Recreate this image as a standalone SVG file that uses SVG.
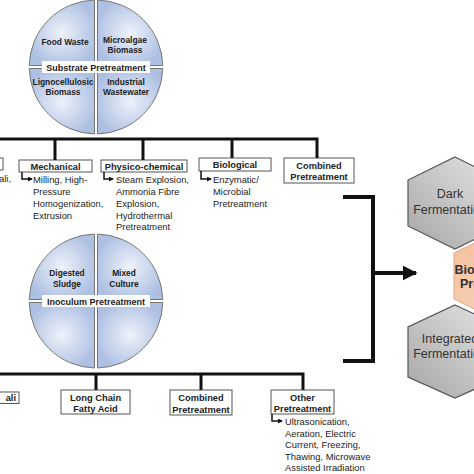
<svg xmlns="http://www.w3.org/2000/svg" width="474" height="474" viewBox="0 0 474 474">
<defs>
<radialGradient id="blue" cx="0.5" cy="0.5" r="0.55">
<stop offset="0" stop-color="#eef2fa"/>
<stop offset="1" stop-color="#adc0e2"/>
</radialGradient>
<linearGradient id="gray" x1="1" y1="0" x2="0" y2="1">
<stop offset="0" stop-color="#e6e6e6"/>
<stop offset="1" stop-color="#a6a6a6"/>
</linearGradient>
<linearGradient id="orange" x1="0" y1="0" x2="1" y2="1">
<stop offset="0" stop-color="#f3bf9b"/>
<stop offset="1" stop-color="#fbdcc6"/>
</linearGradient>
<marker id="ah" viewBox="0 0 6 6" refX="5" refY="3" markerWidth="5" markerHeight="5" markerUnits="userSpaceOnUse" orient="auto">
<path d="M0,0 L6,3 L0,6 z" fill="#111"/>
</marker>
<marker id="big" viewBox="0 0 10 10" refX="9" refY="5" markerWidth="15" markerHeight="15" markerUnits="userSpaceOnUse" orient="auto">
<path d="M0,0 L10,5 L0,10 z" fill="#111"/>
</marker>
</defs>
<style>
text{font-family:"Liberation Sans",Arial,sans-serif;fill:#222}
.q{font-size:8.4px;font-weight:bold;text-anchor:middle}
.band{font-size:9px;font-weight:bold;text-anchor:middle}
.bl{font-size:9.3px;font-weight:bold;text-anchor:middle}
.it{font-size:9.4px}
.hx{font-size:12.5px;text-anchor:middle;fill:#333}
.hxb{font-size:12.5px;font-weight:bold;text-anchor:middle;fill:#333}
.quad{fill:url(#blue);stroke:#777;stroke-width:1}
.box{fill:#fff;stroke:#555;stroke-width:1}
.hex{fill:url(#gray);stroke:#555;stroke-width:1.2}
.main{fill:none;stroke:#111;stroke-width:3}
.thick{fill:none;stroke:#111;stroke-width:4}
.sub{fill:none;stroke:#111;stroke-width:1.5}
</style>

<g id="substrate-circle">
<path class="quad" d="M94.5,65.5 V0 A67,67 0 0 0 29.2,65.5 Z"/>
<path class="quad" d="M97.5,65.5 V0 A67,67 0 0 1 162.8,65.5 Z"/>
<path class="quad" d="M94.5,68.5 V134 A67,67 0 0 1 29.2,68.5 Z"/>
<path class="quad" d="M97.5,68.5 V134 A67,67 0 0 0 162.8,68.5 Z"/>
<rect x="42" y="61" width="108" height="12" fill="#fff"/>
<text class="band" x="96" y="70.5">Substrate Pretreatment</text>
<text class="q" x="65" y="45">Food Waste</text>
<text class="q" x="125" y="43">Microalgae</text>
<text class="q" x="125" y="53">Biomass</text>
<text class="q" x="63" y="85">Lignocellulosic</text>
<text class="q" x="63" y="95">Biomass</text>
<text class="q" x="126" y="85">Industrial</text>
<text class="q" x="126" y="95">Wastewater</text>
</g>

<g id="inoculum-circle">
<path class="quad" d="M94.5,299.5 V234 A67,67 0 0 0 29.2,299.5 Z"/>
<path class="quad" d="M97.5,299.5 V234 A67,67 0 0 1 162.8,299.5 Z"/>
<path class="quad" d="M94.5,302.5 V368 A67,67 0 0 1 29.2,302.5 Z"/>
<path class="quad" d="M97.5,302.5 V368 A67,67 0 0 0 162.8,302.5 Z"/>
<rect x="42" y="295" width="108" height="12" fill="#fff"/>
<text class="band" x="96" y="304.5">Inoculum Pretreatment</text>
<text class="q" x="67" y="276">Digested</text>
<text class="q" x="67" y="287">Sludge</text>
<text class="q" x="124" y="276">Mixed</text>
<text class="q" x="124" y="287">Culture</text>
</g>

<g id="chemical-top">
<rect class="box" x="-20" y="158" width="23" height="12"/>
<text class="it" x="-1" y="182">ali,</text>
</g>

<g id="mechanical">
<rect class="box" x="19" y="160" width="73" height="12"/>
<text class="bl" x="55.5" y="169.5">Mechanical</text>
<text class="it" x="33" y="183">Milling, High-</text>
<text class="it" x="33" y="195">Pressure</text>
<text class="it" x="33" y="207">Homogenization,</text>
<text class="it" x="33" y="218.5">Extrusion</text>
</g>

<g id="physico-chemical">
<rect class="box" x="101" y="160" width="86" height="12"/>
<text class="bl" x="144" y="169.5">Physico-chemical</text>
<text class="it" x="116" y="183">Steam Explosion,</text>
<text class="it" x="116" y="195">Ammonia Fibre</text>
<text class="it" x="116" y="207">Explosion,</text>
<text class="it" x="116" y="218.5">Hydrothermal</text>
<text class="it" x="116" y="230">Pretreatment</text>
</g>

<g id="biological">
<rect class="box" x="199" y="158" width="72" height="13"/>
<text class="bl" x="235" y="168">Biological</text>
<text class="it" x="213" y="183">Enzymatic/</text>
<text class="it" x="213" y="195">Microbial</text>
<text class="it" x="213" y="206.5">Pretreatment</text>
</g>

<g id="combined-top">
<rect class="box" x="284" y="158" width="70" height="25"/>
<text class="bl" x="319" y="168.5">Combined</text>
<text class="bl" x="319" y="180">Pretreatment</text>
</g>

<g id="alkali-bottom">
<rect class="box" x="-20" y="392" width="39" height="11.5"/>
<text class="bl" x="16" y="401" style="text-anchor:end">ali</text>
</g>

<g id="long-chain">
<rect class="box" x="61" y="390" width="69" height="24"/>
<text class="bl" x="95.5" y="400.5">Long Chain</text>
<text class="bl" x="95.5" y="411.5">Fatty Acid</text>
</g>

<g id="combined-bottom">
<rect class="box" x="170" y="390" width="62" height="25"/>
<text class="bl" x="201" y="401">Combined</text>
<text class="bl" x="201" y="412.5">Pretreatment</text>
</g>

<g id="other">
<rect class="box" x="271" y="390" width="63" height="24"/>
<text class="bl" x="302.5" y="400.5">Other</text>
<text class="bl" x="302.5" y="411.5">Pretreatment</text>
<text class="it" x="285" y="425">Ultrasonication,</text>
<text class="it" x="285" y="436.5">Aeration, Electric</text>
<text class="it" x="285" y="448">Current, Freezing,</text>
<text class="it" x="285" y="459.5">Thawing, Microwave</text>
<text class="it" x="285" y="471">Assisted Irradiation</text>
</g>

<g id="dark-fermentation">
<polygon class="hex" points="455,157 502,180 502,226 455,249 408,226 408,180"/>
<text class="hx" x="450" y="198">Dark</text>
<text class="hx" x="450" y="214">Fermentation</text>
</g>

<g id="biohydrogen">
<polygon points="501,230 548,253 548,299 501,322 454,299 454,253" fill="url(#orange)" stroke="#d8a888" stroke-width="1"/>
<text class="hxb" x="493" y="274">Biohydrogen</text>
<text class="hxb" x="493" y="288">Production</text>
</g>

<g id="integrated-fermentation">
<polygon class="hex" points="455,305 502,327 502,377 455,398 408,377 408,327"/>
<text class="hx" x="450" y="343">Integrated</text>
<text class="hx" x="450" y="358">Fermentation</text>
</g>

<g id="connectors">
<path class="main" d="M0,139 H317 V158"/>
<path class="main" d="M55,139 V160"/>
<path class="main" d="M143,139 V160"/>
<path class="main" d="M232,139 V158"/>
<path class="main" d="M0,374 H303 V390"/>
<path class="main" d="M96,374 V390"/>
<path class="main" d="M201,374 V390"/>
<path class="sub" d="M22,172 V179 H32" marker-end="url(#ah)"/>
<path class="sub" d="M104,172 V179 H113" marker-end="url(#ah)"/>
<path class="sub" d="M201,171 V179 H211" marker-end="url(#ah)"/>
<path class="sub" d="M272,414 V421 H282" marker-end="url(#ah)"/>
<path class="thick" d="M343,197 H373 V361 H343"/>
<path class="thick" d="M373,273 H416" marker-end="url(#big)"/>
</g>
</svg>
